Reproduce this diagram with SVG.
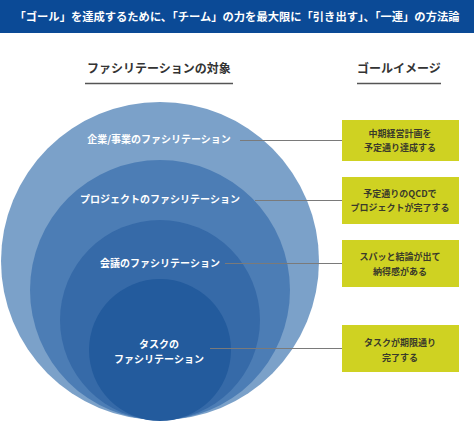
<svg xmlns="http://www.w3.org/2000/svg" width="474" height="421" viewBox="0 0 474 421">
  <style>
    text { font-family: "Noto Sans CJK JP", "Noto Sans", sans-serif; font-weight: bold; }
    .hdr { fill: #ffffff; font-size: 11px; }
    .sec { fill: #333333; font-size: 12px; text-anchor: middle; }
    .ul { stroke: #555555; stroke-width: 1.5; }
    .lbl { fill: #ffffff; font-size: 10px; text-anchor: middle; }
    .box { fill: #cfd222; }
    .btx { fill: #3a3a2a; font-size: 9px; text-anchor: middle; }
    .con { stroke: #7a7a7a; stroke-width: 1; fill: none; }
  </style>
  <rect width="474" height="421" fill="#ffffff"/>
  <g id="header">
    <rect x="0" y="0" width="474" height="33" fill="#0b4a96"/>
    <text class="hdr" x="237" y="21" text-anchor="middle" textLength="445" lengthAdjust="spacingAndGlyphs">「ゴール」を達成するために、「チーム」の力を最大限に「引き出す」、「一連」の方法論</text>
  </g>
  <g id="heading-left">
    <text class="sec" x="159" y="73">ファシリテーションの対象</text>
    <line class="ul" x1="85" y1="83.5" x2="233" y2="83.5"/>
  </g>
  <g id="heading-right">
    <text class="sec" x="399" y="73">ゴールイメージ</text>
    <line class="ul" x1="357" y1="83.5" x2="441" y2="83.5"/>
  </g>
  <g id="circle-company">
    <circle cx="160" cy="261" r="159" fill="#7ba1c9"/>
    <text class="lbl" x="159" y="143">企業/事業のファシリテーション</text>
  </g>
  <g id="circle-project">
    <circle cx="160" cy="290" r="130" fill="#4c7db5"/>
    <text class="lbl" x="160" y="203">プロジェクトのファシリテーション</text>
  </g>
  <g id="circle-meeting">
    <circle cx="160" cy="320" r="100" fill="#366aa8"/>
    <text class="lbl" x="160" y="267">会議のファシリテーション</text>
  </g>
  <g id="circle-task">
    <circle cx="160" cy="350" r="71" fill="#235b9d"/>
    <text class="lbl" x="159" y="348">タスクの</text>
    <text class="lbl" x="159" y="363">ファシリテーション</text>
  </g>
  <g id="connectors">
    <line class="con" x1="240" y1="140.5" x2="342" y2="140.5"/>
    <line class="con" x1="255" y1="200.5" x2="342" y2="200.5"/>
    <line class="con" x1="225" y1="263.5" x2="342" y2="263.5"/>
    <line class="con" x1="210" y1="348.5" x2="342" y2="348.5"/>
  </g>
  <g id="goal-1">
    <rect class="box" x="342" y="120" width="117" height="41"/>
    <text class="btx" x="400" y="137">中期経営計画を</text>
    <text class="btx" x="400" y="151">予定通り達成する</text>
  </g>
  <g id="goal-2">
    <rect class="box" x="342" y="177" width="117" height="47"/>
    <text class="btx" x="400" y="197">予定通りのQCDで</text>
    <text class="btx" x="400" y="211">プロジェクトが完了する</text>
  </g>
  <g id="goal-3">
    <rect class="box" x="342" y="240" width="117" height="47"/>
    <text class="btx" x="400" y="260">スパッと結論が出て</text>
    <text class="btx" x="400" y="275">納得感がある</text>
  </g>
  <g id="goal-4">
    <rect class="box" x="342" y="325" width="117" height="47"/>
    <text class="btx" x="400" y="346">タスクが期限通り</text>
    <text class="btx" x="400" y="361">完了する</text>
  </g>
</svg>
